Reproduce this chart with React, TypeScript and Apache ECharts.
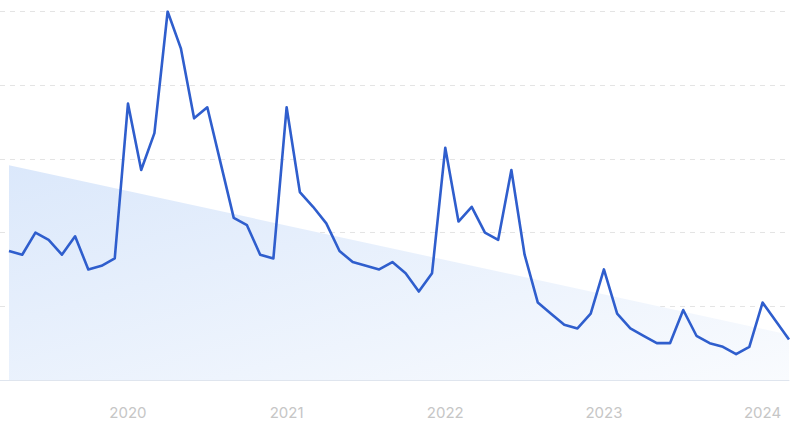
import React, { useEffect, useRef } from 'react';
import * as echarts from 'echarts';

// monthly index, Apr 2019 .. Mar 2024
const interest = [
  35, 34, 40, 38, 34, 39, 30, 31, 33, 75,
  57, 67, 100, 90, 71, 74, 59, 44, 42, 34,
  33, 74, 51, 47, 42.5, 35, 32, 31, 30, 32,
  29, 24, 29, 63, 43, 47, 40, 38, 57, 34,
  21, 18, 15, 14, 18, 30, 18, 14, 12, 10,
  10, 19, 12, 10, 9, 7, 9, 21, 16, 11,
];
const trendStart = 58.3;
const trendEnd = 12.3;
const yearLabelIdx = [9, 21, 33, 45, 57];
const yearLabels = ['2020', '2021', '2022', '2023', '2024'];

export default function App() {
  const chartRef = useRef<HTMLDivElement>(null);

  useEffect(() => {
    if (!chartRef.current) return;
    const chart = echarts.init(chartRef.current, undefined, { renderer: 'svg' });

    const lineData = interest.map((v, i) => [i, v]);
    const trendData = [[0, trendStart], [interest.length - 1, trendEnd]];

    chart.setOption({
      animation: false,
      grid: { left: 0, right: 12, top: 11.5, bottom: 45 },
      xAxis: {
        type: 'value',
        min: -0.68,
        max: interest.length - 1,
        splitLine: { show: false },
        axisTick: { show: false },
        axisLine: { show: true, lineStyle: { color: '#dfe5ee', width: 1 } },
        axisLabel: {
          customValues: yearLabelIdx,
          formatter: (v: number) => yearLabels[yearLabelIdx.indexOf(Math.round(v))] ?? '',
          color: '#c6c6c6',
          fontSize: 15,
          fontFamily: 'Inter',
          margin: 25,
        },
      },
      yAxis: {
        type: 'value',
        min: 0,
        max: 100,
        interval: 20,
        axisLabel: { show: false },
        axisLine: { show: false },
        axisTick: { show: false },
        splitLine: { lineStyle: { color: '#e4e4e4', type: [5, 5], width: 1 } },
      },
      series: [
        {
          type: 'line',
          data: trendData,
          symbol: 'none',
          silent: true,
          lineStyle: { width: 0, opacity: 0 },
          areaStyle: {
            opacity: 1,
            color: new echarts.graphic.LinearGradient(0, 0, 1, 1, [
              { offset: 0, color: '#dbe8fb' },
              { offset: 1, color: '#f9fbfe' },
            ]),
          },
        },
        {
          type: 'line',
          data: lineData,
          symbol: 'none',
          lineStyle: { color: '#2f5ecd', width: 2.6, join: 'round' },
        },
      ],
    });

    return () => chart.dispose();
  }, []);

  return (
    <div
      ref={chartRef}
      style={{ position: 'fixed', left: 0, top: 0, width: 801, height: 425, background: '#fff' }}
    />
  );
}
